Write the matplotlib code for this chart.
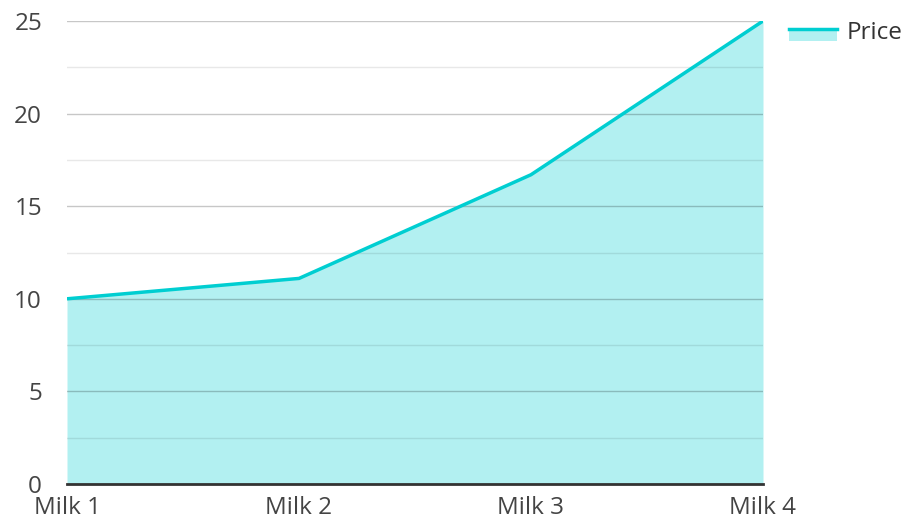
import matplotlib.pyplot as plt
from matplotlib.legend_handler import HandlerBase
from matplotlib.patches import Rectangle
from matplotlib.lines import Line2D
from matplotlib.ticker import MultipleLocator

plt.rcParams['font.family'] = ['Open Sans', 'DejaVu Sans']

# data
products = ["Milk 1", "Milk 2", "Milk 3", "Milk 4"]
price = [10, 11.1, 16.7, 25]

line_col = "#00CED1"
text_col = "#444444"


class AreaHandler(HandlerBase):
    # legend key: filled box with the line along its top
    def create_artists(self, legend, orig, xd, yd, w, h, fontsize, trans):
        top = yd + h * 0.6
        bot = top - h * 0.72
        box = Rectangle((xd, bot), w, top - bot, facecolor=line_col, alpha=0.3,
                        edgecolor="none", transform=trans)
        ln = Line2D([xd, xd + w], [top, top], color=line_col, lw=2.5,
                    transform=trans)
        return [box, ln]


fig = plt.figure(figsize=(9.04, 5.24), dpi=100)
ax = fig.add_axes([67 / 904, 40 / 524, 696 / 904, 463 / 524])

x = list(range(len(products)))
ax.fill_between(x, price, 0, color=line_col, alpha=0.3, lw=0, zorder=1)
ax.plot(x, price, color=line_col, lw=2.5, zorder=3, solid_capstyle="butt")

ax.set_xlim(0, 3)
ax.set_ylim(0, 25)
ax.yaxis.set_major_locator(MultipleLocator(5))
ax.yaxis.set_minor_locator(MultipleLocator(2.5))
ax.set_axisbelow(False)
ax.grid(axis="y", which="major", color="black", alpha=0.22, lw=1, zorder=2)
ax.grid(axis="y", which="minor", color="black", alpha=0.09, lw=1, zorder=2)

ax.set_xticks(x)
ax.set_xticklabels(products)
ax.tick_params(axis="both", which="both", length=0, labelsize=17.5,
               labelcolor=text_col)
ax.tick_params(axis="x", pad=9)
ax.tick_params(axis="y", pad=18)

for s in ["top", "right", "left"]:
    ax.spines[s].set_visible(False)
ax.spines["bottom"].set_color("#333333")
ax.spines["bottom"].set_linewidth(2)
ax.spines["bottom"].set_zorder(4)

fig.legend([object()], ["Price"], handler_map={object: AreaHandler()},
           loc="center right", bbox_to_anchor=(1.0, 1 - 33 / 524),
           frameon=False, fontsize=17.5, labelcolor="#333333",
           handlelength=2.0, handletextpad=0.4, borderaxespad=0,
           borderpad=0.05)

fig.savefig("out.png", dpi=100)
